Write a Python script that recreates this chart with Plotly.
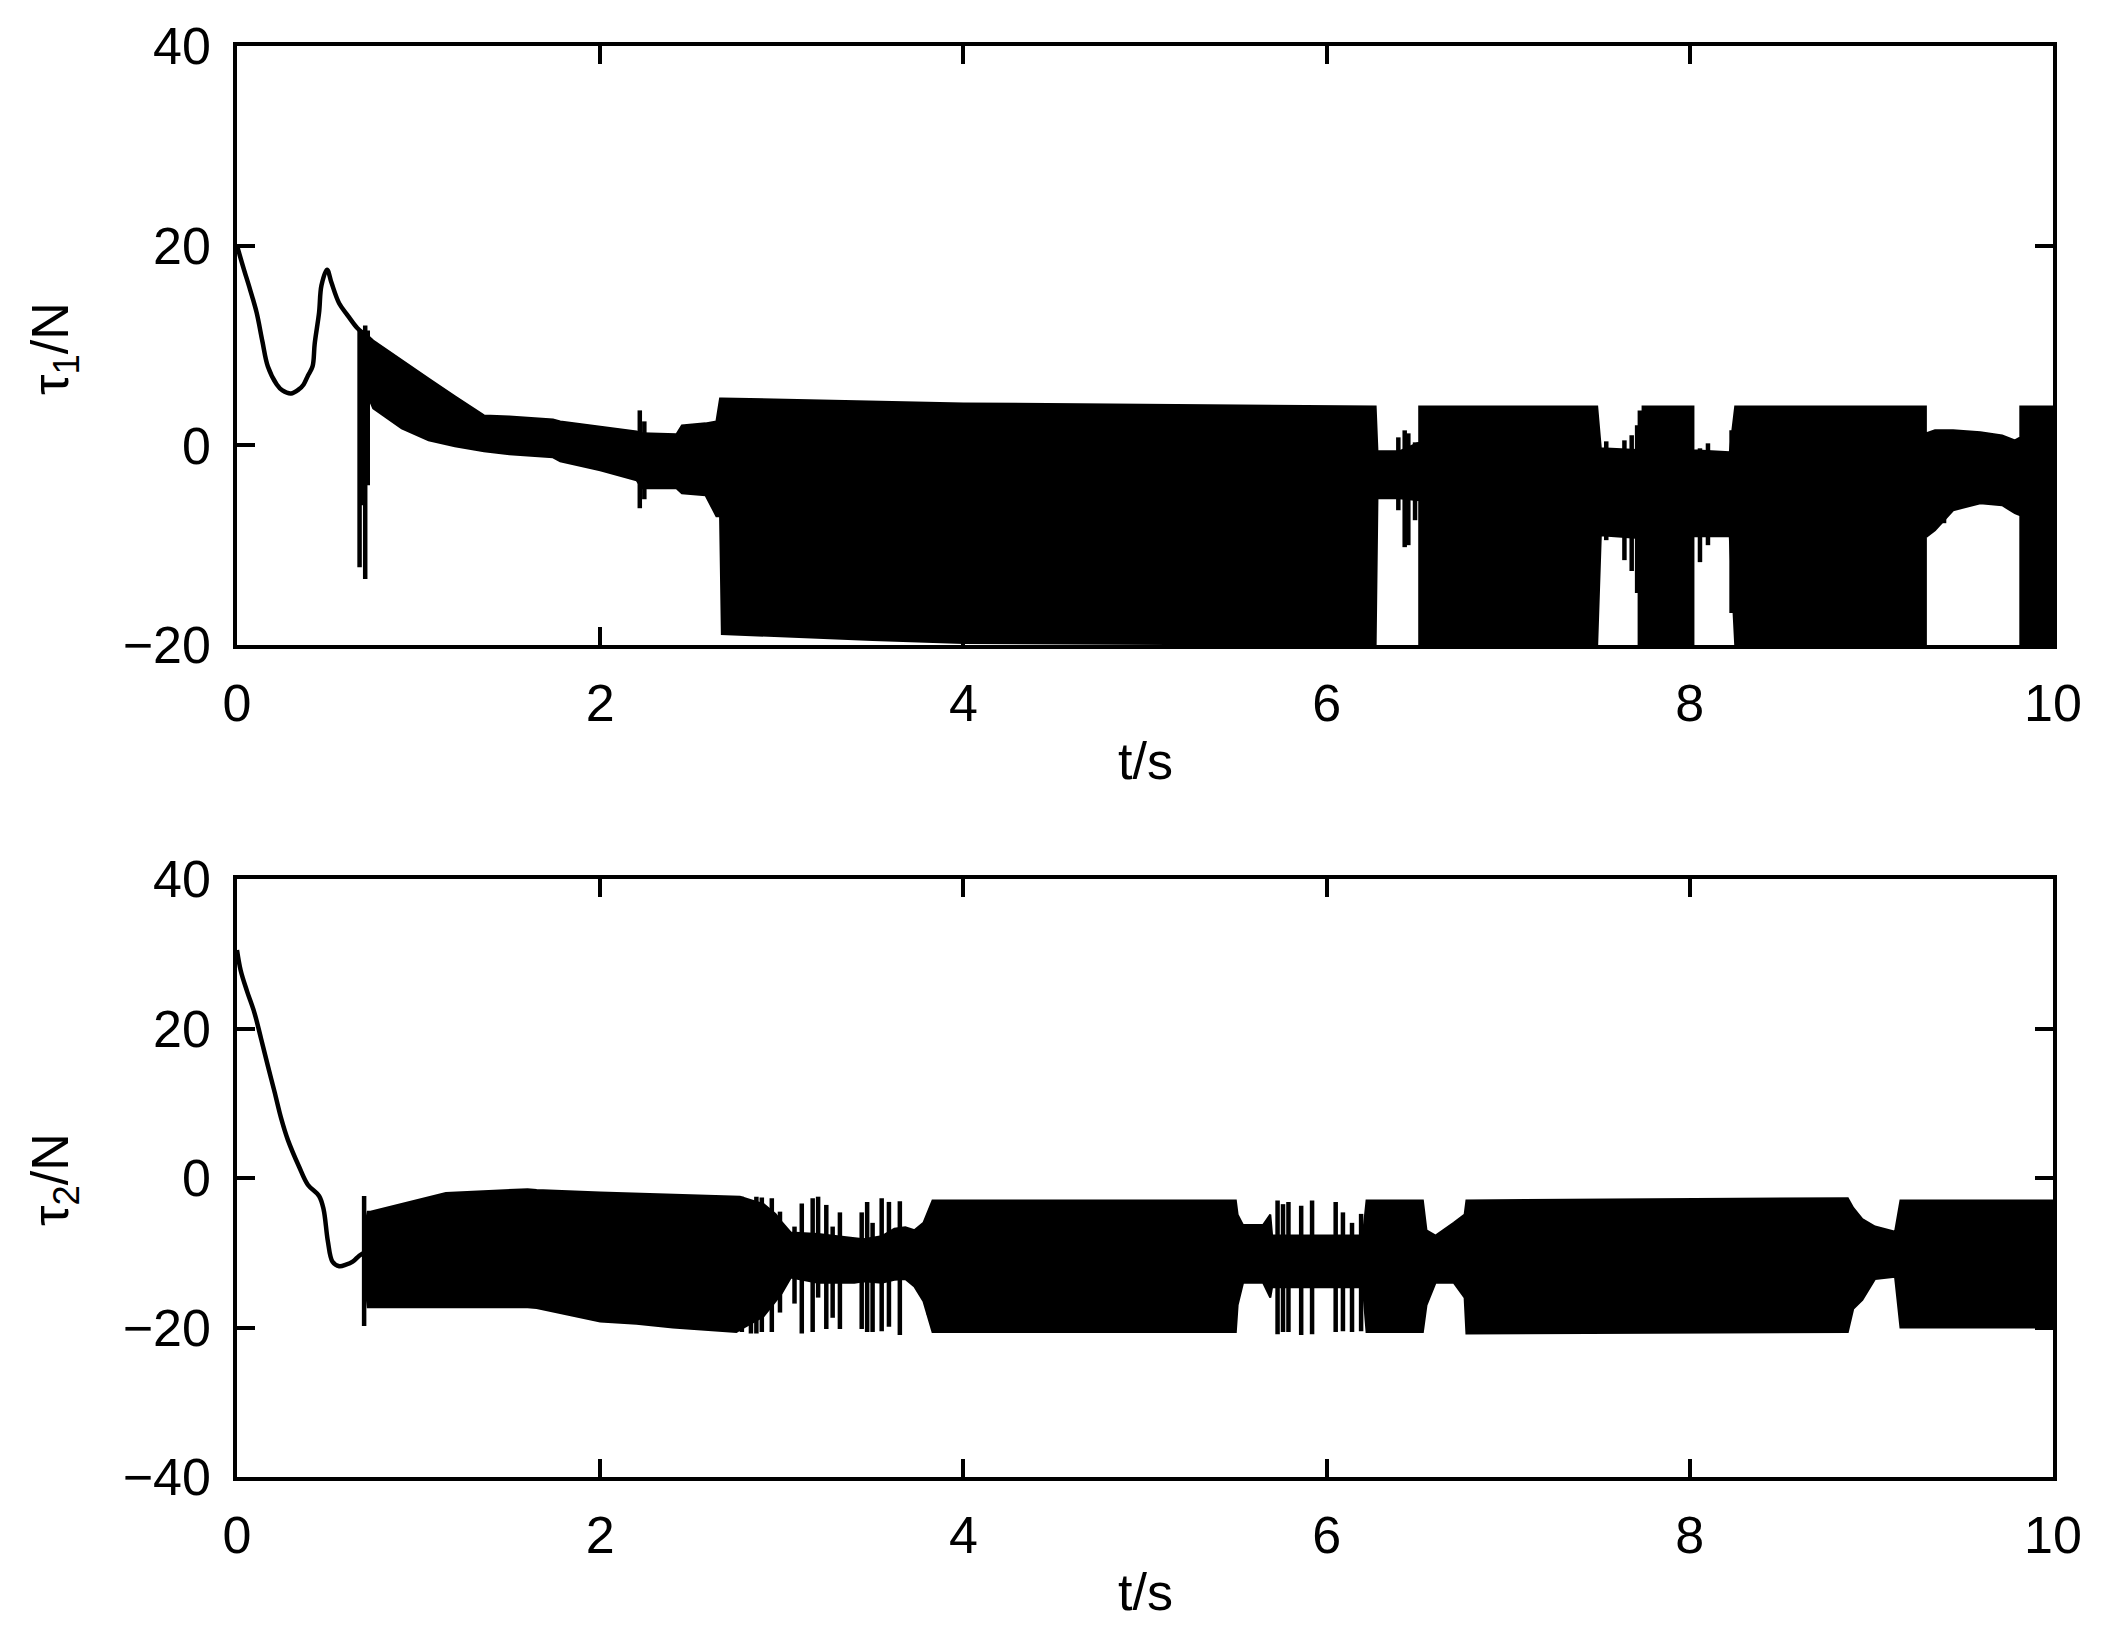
import plotly.graph_objects as go

# ---------------- data ----------------
# tau_1 : smooth start
T1_SMOOTH_T = [0.0, 0.035, 0.072, 0.108, 0.14, 0.17, 0.219, 0.25, 0.297, 0.34, 0.367, 0.391,
               0.416, 0.428, 0.452, 0.465, 0.496, 0.52, 0.563, 0.61, 0.662, 0.69]
T1_SMOOTH_V = [20.0, 17.8, 15.6, 13.3, 10.4, 7.9, 6.1, 5.5, 5.2, 5.6, 6.1, 7.0,
               7.9, 10.2, 13.3, 16.0, 17.6, 16.3, 14.2, 13.0, 11.75, 11.3]

# tau_1 : chattering band envelope (time, upper, lower)
T1_BAND_T = [0.675, 0.72, 0.75, 0.907, 1.055, 1.20, 1.36, 1.50, 1.74, 1.78, 2.00, 2.20, 2.23,
             2.42, 2.45, 2.58, 2.64, 2.66, 2.67, 3.50, 4.00, 6.27, 6.28, 6.40, 6.51, 6.51,
             7.19, 7.49, 7.51, 7.74, 7.74, 8.02, 8.02, 8.22, 8.25, 9.30, 9.30, 9.35, 9.45,
             9.60, 9.72, 9.79, 9.82, 9.82, 10.0]
T1_BAND_HI = [11.5, 11.0, 10.5, 8.5, 6.7, 4.9, 3.0, 2.9, 2.6, 2.4, 1.9, 1.4, 1.2,
              1.1, 2.0, 2.2, 2.4, 4.7, 4.7, 4.4, 4.2, 3.9, -0.6, -0.6, 0.3, 3.9,
              3.9, 3.9, -0.3, -0.5, 3.9, 3.9, -0.5, -0.7, 3.9, 3.9, 1.2, 1.5, 1.5,
              1.3, 1.0, 0.5, 0.8, 3.9, 3.9]
T1_BAND_LO = [9.0, 5.0, 3.7, 1.7, 0.5, -0.1, -0.6, -0.9, -1.2, -1.6, -2.5, -3.5, -4.3,
              -4.3, -4.8, -5.0, -7.1, -7.1, -18.9, -19.5, -19.8, -20.0, -5.3, -5.3, -5.5, -20.0,
              -20.0, -20.0, -9.0, -9.3, -20.0, -20.0, -9.1, -9.1, -20.0, -20.0, -9.2, -8.5, -6.5,
              -5.8, -6.0, -6.8, -7.0, -20.0, -20.0]

# tau_1 : isolated spikes (time, low, high)
T1_SPIKE_T = [0.675, 0.69, 0.706, 0.72, 2.218, 2.243, 6.395, 6.43, 6.45, 6.487,
              7.54, 7.64, 7.68, 7.71, 7.725, 8.056, 8.10, 8.23, 9.38, 9.40]
T1_SPIKE_LO = [-12.2, -6.0, -13.4, -4.0, -6.3, -5.4, -6.5, -10.2, -10.0, -7.5,
               -9.5, -11.5, -12.6, -14.8, -20.0, -11.7, -10.0, -16.8, -7.4, -7.8]
T1_SPIKE_HI = [11.5, 11.2, 12.0, 11.5, 3.5, 2.4, 0.8, 1.5, 1.2, 0.3,
               0.4, 0.5, 1.0, 2.0, 3.5, -0.3, 0.2, 1.5, 1.0, 0.5]

# tau_2 : smooth start
T2_SMOOTH_T = [0.0, 0.02, 0.055, 0.096, 0.133, 0.17, 0.207, 0.244, 0.28, 0.342, 0.39, 0.452,
               0.477, 0.50, 0.526, 0.563, 0.60, 0.637, 0.673, 0.70]
T2_SMOOTH_V = [30.5, 27.8, 25.0, 22.1, 18.6, 15.0, 11.5, 7.9, 5.1, 1.5, -0.9, -2.4,
               -4.2, -8.4, -11.2, -11.8, -11.6, -11.2, -10.4, -10.0]

# tau_2 : chattering band envelope (time, upper, lower)
T2_BAND_T = [0.70, 0.72, 0.735, 1.15, 1.60, 1.65, 2.00, 2.20, 2.40, 2.75, 2.77, 2.90, 2.965,
             3.00, 3.05, 3.20, 3.40, 3.45, 3.55, 3.62, 3.68, 3.73, 3.78, 3.83, 5.03, 5.50,
             5.51, 5.54, 5.65, 5.69, 5.70, 6.20, 6.22, 6.53, 6.55, 6.60, 6.70, 6.76, 6.77,
             8.87, 8.90, 8.95, 9.02, 9.13, 9.16, 10.0]
T2_BAND_HI = [-7.0, -4.5, -4.5, -2.0, -1.5, -1.6, -1.95, -2.1, -2.3, -2.5, -2.5, -3.5, -4.8,
              -5.9, -7.3, -7.5, -8.0, -8.2, -7.8, -6.8, -6.6, -7.0, -6.0, -3.0, -3.0, -3.0,
              -4.9, -6.3, -6.3, -4.9, -7.7, -7.7, -3.0, -3.0, -7.0, -7.7, -6.0, -4.9, -3.0,
              -2.7, -4.0, -5.5, -6.5, -7.2, -3.0, -3.0]
T2_BAND_LO = [-13.0, -17.3, -17.3, -17.3, -17.3, -17.4, -19.2, -19.5, -20.0, -20.6, -20.3, -18.5, -16.5,
              -15.4, -13.3, -14.0, -14.0, -13.8, -14.0, -13.6, -13.5, -14.5, -16.5, -20.6, -20.6, -20.6,
              -17.0, -14.0, -14.0, -16.0, -14.6, -14.6, -20.6, -20.6, -17.0, -14.0, -14.0, -16.0, -20.8,
              -20.6, -17.5, -16.3, -13.5, -13.2, -20.0, -20.0]

# tau_2 : isolated spikes (time, low, high)
T2_SPIKE_T = [0.70, 2.78, 2.83, 2.86, 2.89, 2.945, 2.99, 3.07, 3.11, 3.17, 3.20, 3.245, 3.28,
              3.32, 3.44, 3.47, 3.50, 3.55, 3.59, 3.65, 3.81,
              5.73, 5.76, 5.79, 5.86, 5.92, 6.05, 6.09, 6.14, 6.19]
T2_SPIKE_LO = [-19.8, -20.6, -20.8, -20.8, -20.6, -20.6, -18.0, -16.8, -20.8, -20.6, -16.0, -20.2, -18.7,
               -20.2, -20.2, -20.6, -20.6, -20.5, -19.9, -21.0, -18.3,
               -20.9, -20.6, -20.6, -21.0, -20.9, -20.6, -20.5, -20.6, -20.5]
T2_SPIKE_HI = [-2.4, -2.5, -3.0, -2.5, -2.6, -2.7, -4.5, -6.5, -3.4, -2.7, -2.5, -3.6, -6.5,
               -4.6, -4.6, -3.2, -6.0, -2.7, -3.2, -3.1, -4.8,
               -3.0, -3.5, -3.2, -3.7, -3.0, -3.2, -4.6, -6.0, -4.8]

X_TICKS = [0, 2, 4, 6, 8, 10]
Y1_TICKS = [-20, 0, 20, 40]
Y2_TICKS = [-40, -20, 0, 20, 40]

# ---------------- figure ----------------
W, H = 2113, 1633
OFF = 8  # default page body margin in the written html
FONT = "Liberation Sans, Arial, Helvetica, sans-serif"
fig = go.Figure()


def px_x(p):
    return (p - OFF) / W


def px_y(p):
    return 1 - (p - OFF) / H


def add_panel(xa, ya, st, sv, bt, bhi, blo, kt, klo, khi):
    poly_x = list(bt) + list(bt)[::-1]
    poly_y = list(bhi) + list(blo)[::-1]
    fig.add_trace(go.Scatter(x=poly_x, y=poly_y, mode="lines", fill="toself",
                             fillcolor="black", line=dict(color="black", width=2),
                             xaxis=xa, yaxis=ya, showlegend=False, hoverinfo="skip"))
    sx, sy = [], []
    for t, lo, hi in zip(kt, klo, khi):
        sx += [t, t, None]
        sy += [lo, hi, None]
    fig.add_trace(go.Scatter(x=sx, y=sy, mode="lines", line=dict(color="black", width=4.5),
                             xaxis=xa, yaxis=ya, showlegend=False, hoverinfo="skip"))
    fig.add_trace(go.Scatter(x=st, y=sv, mode="lines", line=dict(color="black", width=4.5),
                             line_shape="spline", xaxis=xa, yaxis=ya, showlegend=False))


add_panel("x", "y", T1_SMOOTH_T, T1_SMOOTH_V, T1_BAND_T, T1_BAND_HI, T1_BAND_LO,
          T1_SPIKE_T, T1_SPIKE_LO, T1_SPIKE_HI)
add_panel("x2", "y2", T2_SMOOTH_T, T2_SMOOTH_V, T2_BAND_T, T2_BAND_HI, T2_BAND_LO,
          T2_SPIKE_T, T2_SPIKE_LO, T2_SPIKE_HI)

x_dom = [px_x(237), px_x(2053)]
axis_common = dict(showline=True, linecolor="black", linewidth=3.5, mirror="ticks",
                   ticks="inside", ticklen=18, tickwidth=3.5, tickcolor="black",
                   showgrid=False, zeroline=False, automargin=False,
                   tickfont=dict(family=FONT, size=52, color="black"))

fig.update_layout(
    width=W, height=H, margin=dict(l=0, r=0, t=0, b=0, autoexpand=False),
    paper_bgcolor="white", plot_bgcolor="white", showlegend=False,
    xaxis=dict(domain=x_dom, range=[0, 10], tickvals=X_TICKS, anchor="y",
               ticklabelstandoff=10, **axis_common),
    yaxis=dict(domain=[px_y(645), px_y(46)], range=[-20, 40], tickvals=Y1_TICKS,
               anchor="x", ticklabelstandoff=12, **axis_common),
    xaxis2=dict(domain=x_dom, range=[0, 10], tickvals=X_TICKS, anchor="y2",
                ticklabelstandoff=10, **axis_common),
    yaxis2=dict(domain=[px_y(1477), px_y(879)], range=[-40, 40], tickvals=Y2_TICKS,
                anchor="x2", ticklabelstandoff=12, **axis_common),
)

xc = px_x((237 + 2053) / 2)
ann_font = dict(family=FONT, size=52, color="black")
fig.add_annotation(text="t/s", x=xc, y=px_y(761), xref="paper", yref="paper",
                   showarrow=False, xanchor="center", yanchor="middle", font=ann_font)
fig.add_annotation(text="t/s", x=xc, y=px_y(1592), xref="paper", yref="paper",
                   showarrow=False, xanchor="center", yanchor="middle", font=ann_font)
fig.add_annotation(text="τ<sub>1</sub>/N", x=px_x(54), y=px_y(349), xref="paper", yref="paper",
                   showarrow=False, xanchor="center", yanchor="middle", textangle=-90,
                   font=ann_font)
fig.add_annotation(text="τ<sub>2</sub>/N", x=px_x(54), y=px_y(1180), xref="paper", yref="paper",
                   showarrow=False, xanchor="center", yanchor="middle", textangle=-90,
                   font=ann_font)

fig.write_html("out.html")
